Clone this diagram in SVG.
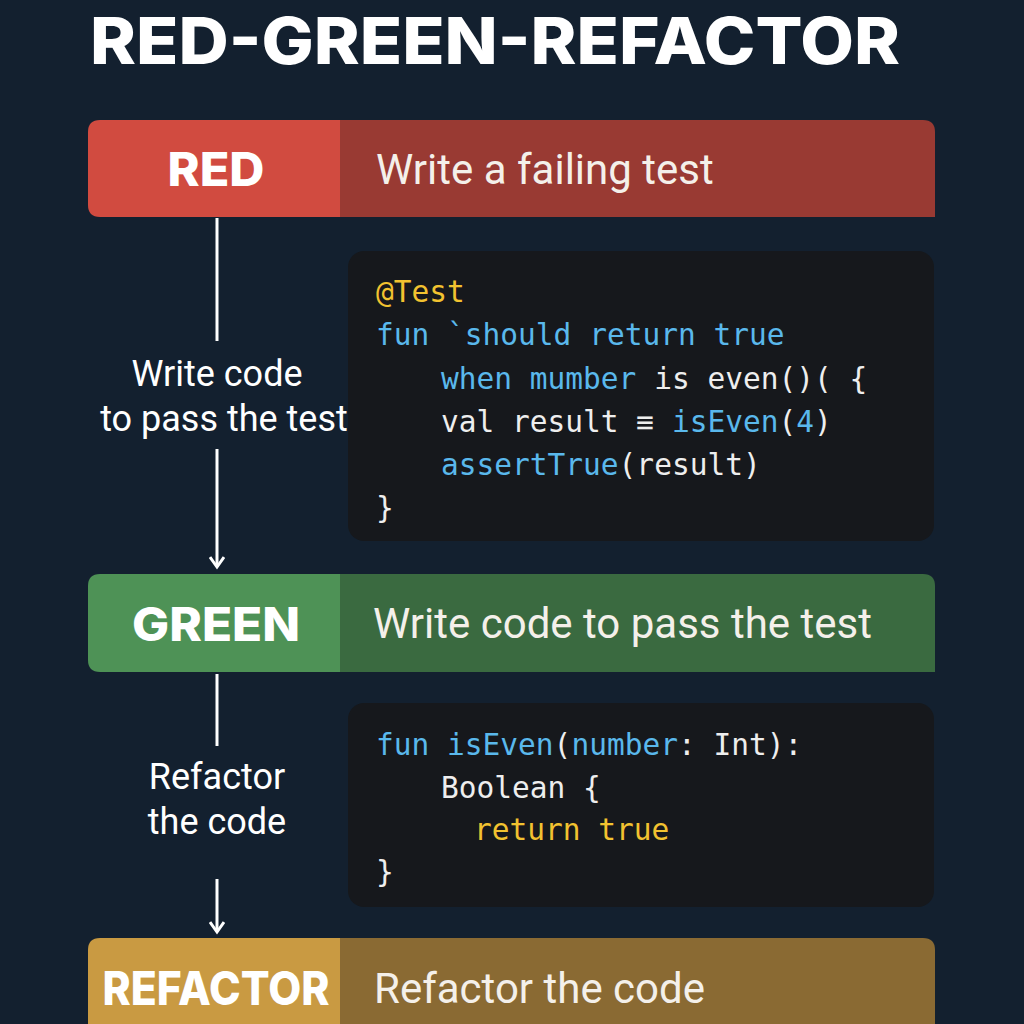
<svg xmlns="http://www.w3.org/2000/svg" width="1024" height="1024" viewBox="0 0 1024 1024">
<style>
.lab{font-family:"Inter","Open Sans","Liberation Sans",sans-serif;font-weight:800;fill:#fff;font-size:46px;text-anchor:middle}
.desc{font-family:"Roboto","Liberation Sans",sans-serif;fill:#f4f0ea;font-size:42px}
.side{font-family:"Roboto","Liberation Sans",sans-serif;fill:#fff;font-size:36px;text-anchor:middle}
.code{font-family:"DejaVu Sans Mono","Liberation Mono",monospace;font-size:29.5px;fill:#eeeeee}
.k{fill:#5ab8ec}.y{fill:#f2c230}
.box{fill:#16181c}
.conn line{stroke:#fff;stroke-width:3}
</style>
<defs><marker id="ah" markerWidth="14" markerHeight="16" refX="11" refY="8" orient="auto" markerUnits="userSpaceOnUse"><path d="M1,1 L11,8 L1,15" fill="none" stroke="#fff" stroke-width="3"/></marker></defs>
<rect width="1024" height="1024" fill="#13202f"/>
<text x="90" y="64" font-family="Inter,Open Sans,Liberation Sans,sans-serif" font-weight="800" font-size="64" fill="#fff" textLength="810" lengthAdjust="spacingAndGlyphs">RED-GREEN-REFACTOR</text>
<g id="red">
<path d="M100,120 H340 V217 H100 Q88,217 88,205 V132 Q88,120 100,120Z" fill="#d14b40"/>
<path d="M340,120 H923 Q935,120 935,132 V217 H340Z" fill="#993a33"/>
<text class="lab" x="216" y="186" textLength="97" lengthAdjust="spacingAndGlyphs">RED</text>
<text class="desc" x="376" y="184">Write a failing test</text>
</g>
<g id="code1">
<rect class="box" x="348" y="251" width="586" height="290" rx="16"/>
<text class="code" x="376" y="302"><tspan class="y">@Test</tspan></text>
<text class="code" x="376" y="345"><tspan class="k">fun `should return true</tspan></text>
<text class="code" x="441" y="389" xml:space="preserve"><tspan class="k">when mumber</tspan> is even()( {</text>
<text class="code" x="441" y="432">val result ≡ <tspan class="k">isEven</tspan>(<tspan class="k">4</tspan>)</text>
<text class="code" x="441" y="475"><tspan class="k">assertTrue</tspan>(result)</text>
<text class="code" x="376" y="518">}</text>
</g>
<g id="green">
<path d="M100,574 H340 V672 H100 Q88,672 88,660 V586 Q88,574 100,574Z" fill="#4e9256"/>
<path d="M340,574 H923 Q935,574 935,586 V672 H340Z" fill="#3a6a40"/>
<text class="lab" x="216" y="641" textLength="168" lengthAdjust="spacingAndGlyphs">GREEN</text>
<text class="desc" x="373" y="638">Write code to pass the test</text>
</g>
<g id="code2">
<rect class="box" x="348" y="703" width="586" height="204" rx="16"/>
<text class="code" x="376" y="755"><tspan class="k">fun isEven</tspan>(<tspan class="k">number</tspan>: Int):</text>
<text class="code" x="441" y="798">Boolean {</text>
<text class="code" x="474" y="840"><tspan class="y">return true</tspan></text>
<text class="code" x="376" y="882">}</text>
</g>
<g id="refactor">
<path d="M100,938 H340 V1024 H88 V950 Q88,938 100,938Z" fill="#c99a42"/>
<path d="M340,938 H923 Q935,938 935,950 V1024 H340Z" fill="#8a6a33"/>
<text class="lab" x="216" y="1005" textLength="227" lengthAdjust="spacingAndGlyphs">REFACTOR</text>
<text class="desc" x="374" y="1003">Refactor the code</text>
</g>
<g class="conn" id="connectors">
<line x1="217" y1="218" x2="217" y2="341"/>
<line x1="217" y1="449" x2="217" y2="567" marker-end="url(#ah)"/>
<line x1="217" y1="674" x2="217" y2="746"/>
<line x1="217" y1="879" x2="217" y2="932" marker-end="url(#ah)"/>
<text class="side" x="217" y="386">Write code</text>
<text class="side" x="224" y="431">to pass the test</text>
<text class="side" x="217" y="789">Refactor</text>
<text class="side" x="217" y="834">the code</text>
</g>
</svg>
